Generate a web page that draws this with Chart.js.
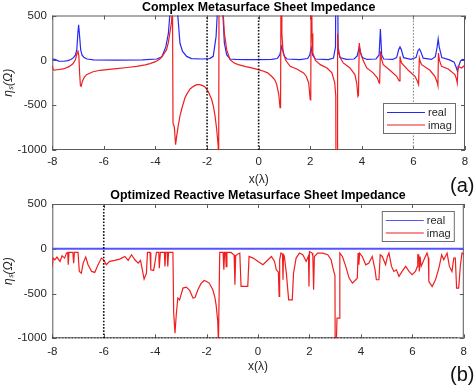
<!DOCTYPE html>
<html><head><meta charset="utf-8">
<script src="https://cdn.jsdelivr.net/npm/chart.js@4.4.1/dist/chart.umd.min.js"></script>
<style>
html,body{margin:0;padding:0;background:#fff;width:474px;height:386px;overflow:hidden;}
canvas{position:absolute;left:0;}
#c1{top:0;}
#c2{top:188px;}
.lab{position:absolute;font-family:'Liberation Sans',Arial,sans-serif;font-size:20px;color:#111;}
</style></head><body>
<canvas id="c1" width="474" height="190" style="width:474px;height:190px"></canvas>
<canvas id="c2" width="474" height="198" style="width:474px;height:198px"></canvas>
<div class="lab" style="left:450px;top:174px;">(a)</div>
<div class="lab" style="left:450px;top:363px;">(b)</div>
<script>
// ---- data ----
const xTicks = [-8,-6,-4,-2,0,2,4,6,8];
const yTicks = [-1000,-500,0,500];
const titleA = 'Complex Metasurface Sheet Impedance';
const titleB = 'Optimized Reactive Metasurface Sheet Impedance';
const seriesNames = ['real','imag'];

// (a) real part
const realA_x = [-8,-7.9,-7.75,-7.55,-7.4,-7.28,-7.18,-7.1,-7.05,-7.01,-6.98,-6.95,-6.9,-6.85,-6.78,-6.65,-6.4,-5.5,-4.5,-3.95,-3.75,-3.6,-3.5,-3.44,-3.3,-3.14,-3.05,-2.95,-2.79,-2.6,-2.2,-1.9,-1.76,-1.65,-1.59,-1.5,-1.4,-1.33,-1.24,-1.11,-0.9,-0.5,0,0.5,0.72,0.82,0.89,0.94,1.0,1.1,1.6,1.9,1.98,2.04,2.09,2.2,2.7,2.9,2.98,3.0,3.05,3.08,3.15,3.4,3.7,3.82,3.9,3.95,4.02,4.2,4.55,4.67,4.72,4.77,4.85,5.2,5.35,5.43,5.48,5.53,5.62,5.9,6.1,6.18,6.23,6.28,6.38,6.7,6.85,6.92,6.96,7.0,7.1,7.4,7.58,7.66,7.71,7.76,7.83,7.9,8];
const realA_y = [15,10,-8,-10,-3,10,30,60,120,300,395,300,120,60,35,15,5,2,5,15,40,150,300,520,1500,520,190,100,44,20,15,20,44,267,600,1500,600,193,63,15,10,8,8,10,20,60,156,110,45,15,8,20,60,140,60,15,8,25,150,1500,1500,150,30,10,15,50,150,90,30,10,15,60,349,60,15,10,30,120,149,120,30,10,30,110,127,100,25,10,40,150,238,150,30,5,-20,-80,-122,-60,-5,10,5];

// (a) imaginary part
const imagA_x = [-8,-7.97,-7.93,-7.8,-7.57,-7.35,-7.19,-7.1,-7.04,-7.01,-6.97,-6.94,-6.91,-6.88,-6.83,-6.75,-6.67,-6.45,-6.15,-5.8,-5.5,-5.1,-4.73,-4.4,-4.21,-4.0,-3.83,-3.7,-3.57,-3.5,-3.44,-3.38,-3.34,-3.32,-3.27,-3.22,-3.18,-3.12,-3.05,-2.98,-2.86,-2.79,-2.66,-2.53,-2.4,-2.28,-2.15,-2.08,-1.95,-1.82,-1.75,-1.69,-1.63,-1.57,-1.55,-1.53,-1.41,-1.37,-1.33,-1.24,-1.11,-0.95,-0.79,-0.5,-0.27,0.12,0.35,0.5,0.62,0.7,0.78,0.83,0.85,0.87,0.9,0.95,1.05,1.22,1.48,1.74,1.85,1.94,2.0,2.02,2.04,2.07,2.1,2.2,2.39,2.65,2.84,2.95,2.99,3.0,3.04,3.06,3.09,3.18,3.28,3.54,3.73,3.8,3.85,3.87,3.9,3.95,4.05,4.19,4.44,4.6,4.67,4.69,4.72,4.76,4.83,5.09,5.35,5.42,5.45,5.48,5.51,5.54,5.8,6.06,6.15,6.2,6.23,6.27,6.32,6.64,6.83,6.92,6.95,6.97,7.01,7.09,7.35,7.61,7.67,7.7,7.73,7.87,7.97,8];
const imagA_y = [-60,-100,-110,-105,-96,-70,-35,10,80,110,50,-150,-280,-290,-230,-185,-160,-130,-111,-100,-92,-80,-67,-50,-37,-15,15,60,119,200,308,420,600,-700,-740,-940,-850,-733,-620,-540,-420,-380,-320,-290,-272,-272,-285,-296,-350,-437,-520,-622,-760,-950,-1200,1500,900,500,304,119,8,-30,-48,-70,-85,-114,-140,-178,-215,-270,-380,-529,-520,1200,300,82,0,-67,-96,-140,-180,-252,-437,-440,1200,300,82,0,-48,-85,-140,-252,-400,-1500,-1500,300,89,20,-29,-85,-159,-250,-400,-390,193,80,0,-85,-140,-196,-252,-255,100,20,-48,-111,-178,-215,-230,44,0,-29,-111,-178,-230,-270,26,-20,-48,-111,-178,-244,-281,82,0,-67,-96,-159,-210,-252,-67,-85,-60,-65];

// (b) real part
const realB_x = [-8,8];
const realB_y = [0,0];

// (b) imaginary part
const imagB_x = [-8,-7.97,-7.9,-7.82,-7.7,-7.62,-7.52,-7.45,-7.4,-7.38,-7.35,-7.2,-7.17,-7.14,-7.0,-6.95,-6.87,-6.8,-6.7,-6.61,-6.47,-6.35,-6.22,-6.09,-6.0,-5.9,-5.77,-5.57,-5.38,-5.18,-5.05,-4.92,-4.79,-4.66,-4.57,-4.43,-4.34,-4.3,-4.2,-4.17,-4.06,-4.0,-3.95,-3.86,-3.84,-3.8,-3.64,-3.62,-3.59,-3.53,-3.51,-3.48,-3.31,-3.28,-3.23,-3.18,-3.12,-3.05,-2.92,-2.79,-2.66,-2.53,-2.45,-2.34,-2.22,-2.1,-2.0,-1.9,-1.76,-1.68,-1.63,-1.57,-1.54,-1.52,-1.49,-1.36,-1.33,-1.3,-1.26,-1.24,-1.21,-1.05,-0.93,-0.9,-0.87,-0.8,-0.71,-0.66,-0.4,-0.35,-0.19,0.0,0.19,0.39,0.52,0.64,0.71,0.79,0.82,0.84,0.89,0.95,0.97,0.99,1.02,1.1,1.19,1.33,1.38,1.48,1.61,1.74,1.87,1.96,1.98,2.0,2.1,2.13,2.16,2.19,2.32,2.52,2.71,2.84,2.93,2.99,3.0,3.04,3.07,3.16,3.18,3.28,3.41,3.54,3.67,3.8,3.86,3.89,3.92,3.95,4.05,4.19,4.31,4.44,4.55,4.6,4.7,4.75,4.83,4.96,5.03,5.09,5.19,5.28,5.38,5.48,5.6,5.74,5.87,5.99,6.12,6.19,6.21,6.25,6.27,6.3,6.34,6.48,6.57,6.62,6.64,6.77,6.9,7.03,7.14,7.22,7.35,7.44,7.54,7.61,7.67,7.72,7.8,7.87,7.93,8];
const imagB_y = [-197,-104,-123,-93,-141,-78,-104,-48,-41,-179,-41,-41,-160,-41,-41,-253,-272,-160,-93,-179,-253,-264,-179,-104,-123,-179,-141,-130,-115,-86,-130,-67,-123,-160,-130,-339,-272,-41,-41,-235,-242,-141,-41,-41,-216,-41,-41,-197,-41,-41,-197,-41,-41,-718,-942,-737,-550,-570,-439,-428,-465,-551,-545,-458,-390,-354,-365,-383,-458,-540,-630,-800,-1050,-1050,-41,-41,-235,-41,-41,-200,-41,-41,-70,-402,-80,-60,-48,-421,-421,-86,-104,-141,-179,-123,-86,-141,-235,-260,-533,-123,-48,-60,-346,-67,-80,-272,-570,-570,-272,-104,-48,-67,-141,-80,-421,-30,-48,-80,-458,-86,-48,-48,-67,-123,-235,-300,-1200,-1100,-774,-774,-48,-86,-197,-327,-383,-346,-327,-48,-179,-48,-86,-179,-160,-86,-235,-346,-346,-67,-86,-179,-86,-48,-197,-253,-235,-309,-253,-197,-253,-290,-253,-200,-67,-67,-253,-86,-197,-104,-48,-100,-365,-421,-346,-216,-67,-123,-48,-197,-253,-104,-104,-439,-439,-179,-48,-60];

// reference (dotted) lines
const vLinesA = [-2, 0];
const vLinesA_gray = [6];
const vLinesB = [-6];
const yMin = -1000, yMax = 500, xMin = -8, xMax = 8;

// ---- helpers ----
const FONT = "'Liberation Sans', Arial, sans-serif";
const BLUE = 'rgb(40,40,245)';
const RED = 'rgb(240,30,30)';
const pts = (xs, ys) => xs.map((x, i) => ({x, y: ys[i]}));

function refLine(x0, y0, x1, y1, color, w) {
  return {label: '_ref', data: [{x: x0, y: y0}, {x: x1, y: y1}], borderColor: color, borderWidth: w,
    borderDash: [1.6, 1.6], pointRadius: 0, order: 0, fill: false};
}

const framePlugin = {
  id: 'frame',
  beforeDatasetsDraw(chart) {
    const {ctx, chartArea: a, scales: {x, y}} = chart;
    ctx.save();
    ctx.strokeStyle = '#5a5a5a';
    ctx.lineWidth = 1;
    ctx.strokeRect(a.left + 0.5, a.top + 0.5, a.right - a.left - 1, a.bottom - a.top - 1);
    ctx.beginPath();
    xTicks.forEach(v => {
      const px = Math.round(x.getPixelForValue(v)) + 0.5;
      ctx.moveTo(px, a.bottom); ctx.lineTo(px, a.bottom - 4);
      ctx.moveTo(px, a.top); ctx.lineTo(px, a.top + 4);
    });
    yTicks.forEach(v => {
      const py = Math.round(y.getPixelForValue(v)) + 0.5;
      ctx.moveTo(a.left, py); ctx.lineTo(a.left + 4, py);
      ctx.moveTo(a.right, py); ctx.lineTo(a.right - 4, py);
    });
    ctx.stroke();
    ctx.restore();
  },
  afterDraw(chart, args, opts) {
    const {ctx, chartArea: a} = chart;
    ctx.save();
    ctx.font = 'bold 12.4px ' + FONT;
    ctx.fillStyle = '#000';
    ctx.textAlign = 'center';
    ctx.textBaseline = 'middle';
    ctx.fillText(opts.title, (a.left + a.right) / 2, opts.titleY);
    const bw = 72, bh = 30;
    const bx = a.right - 10 - bw;
    const by = opts.legendTop ? a.top + 7 : a.bottom - 17 - bh;
    ctx.fillStyle = '#fff';
    ctx.fillRect(bx, by, bw, bh);
    ctx.strokeStyle = '#6e6e6e';
    ctx.lineWidth = 1;
    ctx.strokeRect(bx + 0.5, by + 0.5, bw, bh);
    const items = chart.data.datasets.filter(d => d.label !== '_ref');
    items.sort((p, q) => seriesNames.indexOf(p.label) - seriesNames.indexOf(q.label));
    ctx.font = '11px ' + FONT;
    ctx.textAlign = 'left';
    items.forEach((d, i) => {
      const yy = by + 9.5 + i * 12.5;
      ctx.strokeStyle = d.borderColor;
      ctx.lineWidth = 1.2;
      ctx.beginPath(); ctx.moveTo(bx + 4, yy); ctx.lineTo(bx + 42, yy); ctx.stroke();
      ctx.fillStyle = '#262626';
      ctx.fillText(d.label, bx + 45, yy + 0.5);
    });
    ctx.restore();
  }
};

function makeChart(id, H, datasets, opt) {
  return new Chart(document.getElementById(id), {
    type: 'line',
    data: {datasets},
    options: {
      responsive: false, animation: false, events: [],
      layout: {padding: {top: opt.areaTop, right: 9, left: 0, bottom: 0}},
      elements: {line: {tension: 0}, point: {radius: 0}},
      plugins: {legend: {display: false}, tooltip: {enabled: false}, title: {display: false},
        frame: {title: opt.title, titleY: opt.titleY, legendTop: opt.legendTop}},
      scales: {
        x: {type: 'linear', min: xMin, max: xMax,
          afterFit: s => { s.height = H - opt.areaBottom; },
          afterBuildTicks: s => { s.ticks = xTicks.map(v => ({value: v})); },
          grid: {display: false, drawTicks: false}, border: {display: false},
          ticks: {padding: opt.xTickPad, color: '#262626', font: {family: FONT, size: 11.5}, maxRotation: 0,
            callback: v => String(v)},
          title: {display: true, text: 'x(λ)', color: '#262626', font: {family: FONT, size: 12},
            padding: {top: 0, bottom: opt.xTitlePad}}},
        y: {type: 'linear', min: yMin, max: yMax,
          afterFit: s => { s.width = 52.3; },
          afterBuildTicks: s => { s.ticks = yTicks.map(v => ({value: v})); },
          grid: {display: false, drawTicks: false}, border: {display: false},
          ticks: {padding: 5.5, color: '#262626', font: {family: FONT, size: 11.5}, callback: v => String(v)},
          title: {display: true, text: 'ηₛ(Ω)', color: '#262626', font: {family: FONT, size: 12, style: 'italic'},
            padding: {top: 1, bottom: 0}}}
      }
    },
    plugins: [framePlugin]
  });
}

const dsA = [
  {label: seriesNames[0], data: pts(realA_x, realA_y), borderColor: BLUE, borderWidth: 1.2, order: 2},
  {label: seriesNames[1], data: pts(imagA_x, imagA_y), borderColor: RED, borderWidth: 1.2, order: 1},
  ...vLinesA.map(v => refLine(v, yMin, v, yMax, '#111', 1.6)),
  ...vLinesA_gray.map(v => refLine(v, yMin, v, yMax, '#8a8a8a', 1.1))
];
const dsB = [
  {label: seriesNames[0], data: pts(realB_x, realB_y), borderColor: 'rgb(85,85,255)', borderWidth: 2, order: 2},
  {label: seriesNames[1], data: pts(imagB_x, imagB_y), borderColor: RED, borderWidth: 1.2, order: 1},
  ...vLinesB.map(v => refLine(v, yMin, v, yMax, '#111', 1.6)),
  refLine(xMin, yMin, 7.8, yMin, '#111', 1.6)
];

makeChart('c1', 190, dsA, {areaTop: 15.5, areaBottom: 150, titleY: 7.5, legendTop: false, xTickPad: 5, xTitlePad: 2.8, title: titleA});
makeChart('c2', 198, dsB, {areaTop: 16, areaBottom: 150.3, titleY: 7.5, legendTop: true, xTickPad: 7, xTitlePad: 11.8, title: titleB});
</script>
</body></html>
